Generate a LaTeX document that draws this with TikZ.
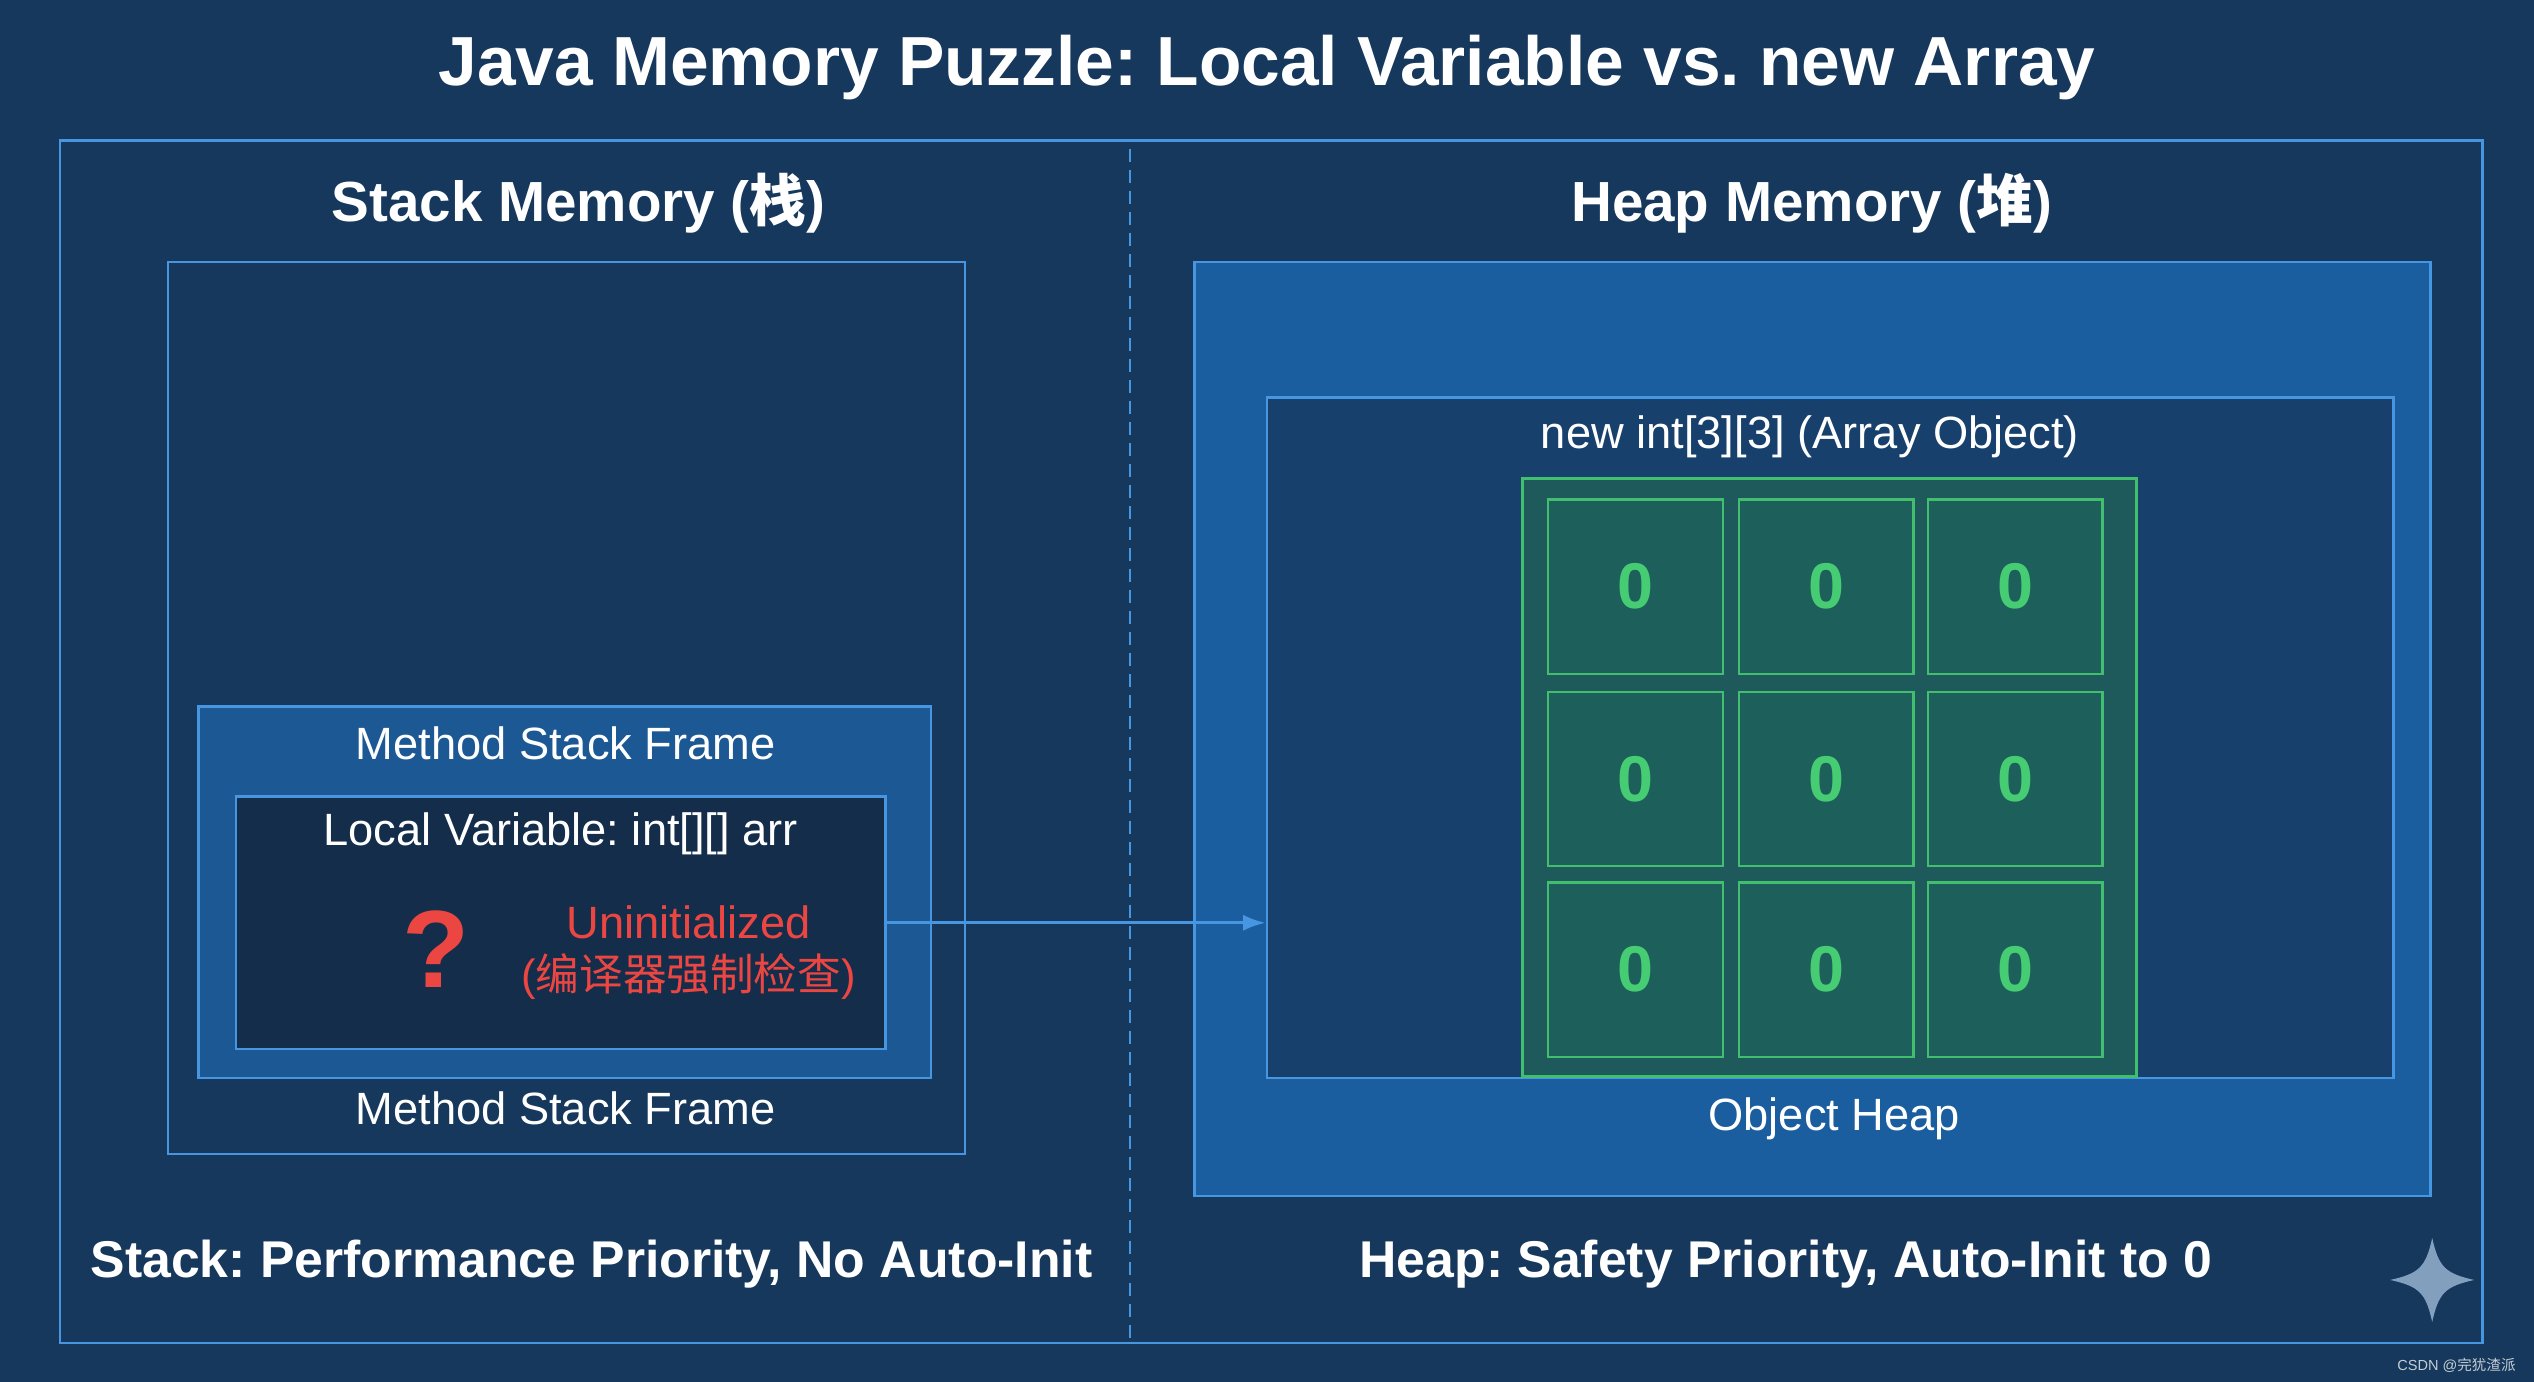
\documentclass[tikz,border=0pt]{standalone}
\usepackage{fontspec}
\usetikzlibrary{arrows.meta}
\setmainfont{Liberation Sans}
\newfontfamily\cjk{Noto Sans CJK SC}
\frenchspacing
\begin{document}
\begin{tikzpicture}[x=1pt,y=-1pt,
  fs/.style={font=\fontsize{#1}{#1}\selectfont},
  fb/.style={font=\fontsize{#1}{#1}\selectfont\bfseries},
  ln/.style={draw=lb,line width=1.6pt},
  cell/.style={draw=gl,line width=1.4pt,fill=cellc,minimum width=108pt,minimum height=108pt,inner sep=0pt,text=gt,font=\fontsize{40}{40}\selectfont\bfseries}]
\definecolor{bg}{RGB}{22,56,92}
\definecolor{lb}{RGB}{70,150,225}
\definecolor{mf}{RGB}{28,88,148}
\definecolor{lv}{RGB}{20,45,75}
\definecolor{hb}{RGB}{26,94,160}
\definecolor{ao}{RGB}{24,64,108}
\definecolor{gridc}{RGB}{30,90,92}
\definecolor{cellc}{RGB}{29,95,90}
\definecolor{gl}{RGB}{65,190,110}
\definecolor{gt}{RGB}{70,205,115}
\definecolor{rd}{RGB}{235,70,65}
\useasboundingbox (0,0) rectangle (1568,855);
\fill[bg] (0,0) rectangle (1568,855);
\node[fb=43,text=white] (title) at (784,42) {Java Memory Puzzle: Local Variable vs. new Array};
\draw[ln] (37,87) rectangle (1536,831);
\coordinate (dt) at (699,92); \coordinate (db) at (699,831);
\draw[lb,line width=1.4pt,dash pattern=on 8pt off 5pt] (dt) -- (db);
% stack
\node[fb=35,text=white] (sm) at (358,126) {Stack Memory ({\cjk 栈})};
\draw[ln] (104,162) rectangle (597,714);
\draw[ln,fill=mf] (123,437) rectangle (576,667);
\node[fs=28,text=white] (mf1) at (350,460) {Method Stack Frame};
\node[ln,fill=lv,minimum width=402pt,minimum height=156pt,inner sep=0pt] (lvb) at (347,571) {};
\node[fs=28,text=white] (lvt) at (347,516) {Local Variable: int[][] arr};
\node[fb=68,text=rd] (q) at (270,587) {?};
\node[fs=28,text=rd] (un) at (426,571) {Uninitialized};
\node[fs=27,text=rd] (ch) at (426,604) {({\cjk 编译器强制检查})};
\node[fs=28,text=white] (mf2) at (350,686) {Method Stack Frame};
% heap
\node[fb=35,text=white] (hm) at (1121,126) {Heap Memory ({\cjk 堆})};
\draw[ln,fill=hb] (739,162) rectangle (1504,740);
\node[ln,fill=ao,minimum width=697pt,minimum height=421pt,inner sep=0pt] (aob) at (1132.5,456.5) {};
\node[fs=28,text=white] (aot) at (1120,270) {new int[3][3] (Array Object)};
\draw[draw=gl,line width=1.6pt,fill=gridc] (942,296) rectangle (1322,666);
\foreach \i/\x in {0/1012,1/1130,2/1247}{
  \foreach \j/\y in {0/363,1/482,2/600}{
    \node[cell] (c\i\j) at (\x,\y) {0};
  }}
\node[fs=28,text=white] (oh) at (1135,692) {Object Heap};
\draw[lb,line width=2pt,-{Latex[length=14pt,width=10pt]}] (lvb.east) -- (aob.west |- lvb.east);
% bottom
\node[fb=32,text=white] (sb) at (366,782) {Stack: Performance Priority, No Auto-Init};
\node[fb=32,text=white] (hbt) at (1105,782) {Heap: Safety Priority, Auto-Init to 0};
\fill[gray!40!lb!60!white,opacity=0.8] (1505,766) .. controls (1509,784) and (1513,788) .. (1531,792)
  .. controls (1513,796) and (1509,800) .. (1505,818)
  .. controls (1501,800) and (1497,796) .. (1479,792)
  .. controls (1497,788) and (1501,784) .. (1505,766) -- cycle;
\node[fs=9,text=white!75!bg] (wm) at (1520,845) {CSDN @{\cjk 完犹渣派}};
\end{tikzpicture}
\end{document}
